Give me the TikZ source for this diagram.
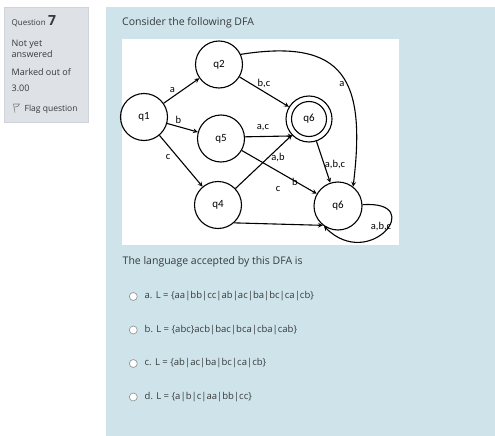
\documentclass[tikz,border=0pt]{standalone}
\usepackage{fontspec}
\setmainfont{Open Sans}
\newfontfamily\diagfont{Carlito}
\usetikzlibrary{arrows,positioning}
\definecolor{panelblue}{HTML}{CEE4EA}
\definecolor{infogray}{HTML}{DEE2E6}
\definecolor{infoline}{HTML}{CED4DA}
\definecolor{txtgray}{HTML}{373A3C}

\begin{document}
\begin{tikzpicture}[x=1pt,y=-1pt,
  state/.style={circle,draw,line width=1.1pt,minimum size=47pt,inner sep=0pt,font=\diagfont\fontsize{11}{12}\selectfont},
  edge/.style={->,>=stealth,line width=1.1pt},
  lbl/.style={font=\diagfont\fontsize{10.5}{11}\selectfont,inner sep=0.5pt},
  info/.style={anchor=base west,inner sep=0pt,text=txtgray,font=\fontsize{9}{10}\selectfont},
  body/.style={anchor=west,inner sep=0pt,text=txtgray,font=\fontsize{10.5}{12}\selectfont},
  radio/.style={circle,draw=gray!80,fill=white,line width=0.7pt,minimum size=8pt,inner sep=0pt}]
\useasboundingbox (0,0) rectangle (495,436);
% page
\fill[white] (0,0) rectangle (495,436);
\filldraw[fill=infogray,draw=infoline] (4,7) rectangle (88,122);
\fill[panelblue] (106,7) rectangle (495,436);
\fill[white] (122,39) rectangle (399,245);

% question info
\node[info,font=\fontsize{8}{9}\selectfont] (qword) at (11.5,26) {Question};
\node[info,font=\bfseries\fontsize{14}{14}\selectfont,anchor=base west] (qnum) at ([xshift=2pt]qword.base east) {7};
\node[info] (notyet) at (11.5,46.5) {Not yet};
\node[info] (answered) at (11.5,57) {answered};
\node[info] (marked) at (11.5,75.5) {Marked out of};
\node[info] (mark) at (11.5,91) {3.00};
\node[info,font=\fontsize{8.5}{10}\selectfont] (flag) at (24.5,111.5) {Flag question};
\draw[gray,line width=0.6pt] (13.5,104) -- (15,112.5);
\draw[gray,line width=0.6pt] (13.5,104) -- (19.5,104) -- (17.8,106.3) -- (14,107.3);

\node[body] (consider) at (122,22.5) {Consider the following DFA};

% states
\node[state] (q1) at (144,117) {q1};
\node[state] (q2) at (219,64.5) {q2};
\node[state] (q5) at (221,138.5) {q5};
\node[state] (q4) at (218,205) {q4};
\node[state,minimum size=46pt] (q6a) at (309,119) {q6};
\draw[line width=1.1pt] (q6a.center) circle[radius=17.5pt];
\node[state,minimum size=48pt] (q6b) at (338,206) {q6};

% transitions
\draw[edge] (q1) -- (q2);
\draw[edge] (q1) -- (q5);
\draw[edge] (q1) -- (q4);
\draw[edge] (q2) -- (q6a);
\draw[edge] (q2.25) .. controls (345,38) and (366,80) .. (q6b.52);
\draw[edge] (q5.4) -- (q6a.226);
\draw[edge] (q5) -- (q6b);
\draw[edge] (q4) -- (q6a);
\draw[edge] (q4.-48) -- (q6b.232);
\draw[edge] (q6a) -- (q6b);
\draw[edge] (q6b.3) .. controls (428,200) and (370,272) .. (q6b.235);

% labels
\node[lbl] (la) at (172.5,90) {a};
\node[lbl] (lb) at (178.5,120) {b};
\node[lbl] (lc) at (168,157) {c};
\node[lbl] (lbc) at (264,84) {b,c};
\node[lbl] (la2) at (342,84) {a};
\node[lbl] (lac) at (263,127.5) {a,c};
\node[lbl] (lab) at (278,158) {a,b};
\node[lbl] (lb5) at (295,182) {b};
\node[lbl] (labc) at (335,165) {a,b,c};
\node[lbl] (lc4) at (278,188.5) {c};
\node[lbl] (lloop) at (381,227) {a,b,c};

% answers
\node[body] (lang) at (122.5,261.5) {The language accepted by this DFA is};
\foreach \y/\n/\t in {296.5/a/{a. L = \{aa|bb|cc|ab|ac|ba|bc|ca|cb\}},
                      330/b/{b. L = \{abc\}acb|bac|bca|cba|cab\}},
                      363.5/c/{c. L = \{ab|ac|ba|bc|ca|cb\}},
                      397/d/{d. L = \{a|b|c|aa|bb|cc\}}}{
  \node[radio] (r\n) at (133.3,\y) {};
  \node[body,font=\fontsize{9.5}{11}\selectfont] (opt\n) at (144.5,\y) {\t};
}
\end{tikzpicture}
\end{document}
